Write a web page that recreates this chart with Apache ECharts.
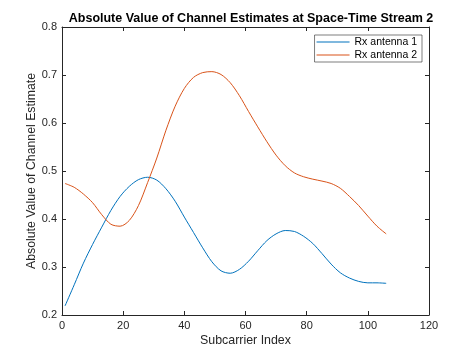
<!DOCTYPE html>
<html><head><meta charset="utf-8">
<script src="https://cdn.jsdelivr.net/npm/echarts@6/dist/echarts.min.js"></script>
<style>html,body{margin:0;padding:0;background:#fff}#c{width:474px;height:355px}</style>
</head><body><div id="c"></div>
<script>
var titleText = 'Absolute Value of Channel Estimates at Space-Time Stream 2';
var seriesNames = ['Rx antenna 1', 'Rx antenna 2'];
var xTicks = [0, 20, 40, 60, 80, 100, 120];
var yTicks = [0.2, 0.3, 0.4, 0.5, 0.6, 0.7, 0.8];

var subcarriers = [1, 4, 7, 10, 13, 16, 19, 22, 25, 28, 31, 34, 37, 40, 43, 46, 49, 52, 55, 58, 61, 64, 67, 70, 73, 76, 79, 82, 85, 88, 91, 94, 97, 100, 103, 106];
var rx1 = [0.219, 0.263, 0.308, 0.347, 0.383, 0.418, 0.447, 0.468, 0.482, 0.487, 0.481, 0.463, 0.437, 0.404, 0.372, 0.340, 0.311, 0.292, 0.287, 0.295, 0.312, 0.334, 0.355, 0.369, 0.376, 0.374, 0.364, 0.349, 0.328, 0.306, 0.288, 0.277, 0.270, 0.267, 0.267, 0.266];
var rx2 = [0.474, 0.466, 0.452, 0.434, 0.409, 0.389, 0.385, 0.397, 0.428, 0.476, 0.527, 0.585, 0.635, 0.672, 0.695, 0.705, 0.707, 0.701, 0.684, 0.657, 0.624, 0.592, 0.561, 0.533, 0.511, 0.496, 0.488, 0.483, 0.479, 0.474, 0.464, 0.447, 0.428, 0.406, 0.385, 0.369];

function pairs(xs, ys) { return xs.map(function (x, i) { return [x, ys[i]]; }); }

var axisCol = '#262626';
var font = 'Liberation Sans, Arial, Helvetica, sans-serif';
var chart = echarts.init(document.getElementById('c'), null, {renderer: 'canvas'});
var xMin = xTicks[0], xMax = xTicks[xTicks.length - 1];
var yMin = yTicks[0], yMax = yTicks[yTicks.length - 1];
function baseX(show) {
  return {
    type: 'value', min: xMin, max: xMax, interval: 20,
    axisLine: {show: true, onZero: false, lineStyle: {color: axisCol, width: 1}},
    axisTick: {show: true, inside: true, length: 4, lineStyle: {color: axisCol}},
    axisLabel: {show: show, color: axisCol, fontSize: 11, fontFamily: font, margin: 5},
    splitLine: {show: false}
  };
}
function baseY(show) {
  return {
    type: 'value', min: yMin, max: yMax, interval: 0.1,
    axisLine: {show: true, onZero: false, lineStyle: {color: axisCol, width: 1}},
    axisTick: {show: true, inside: true, length: 4, lineStyle: {color: axisCol}},
    axisLabel: {show: show, color: axisCol, fontSize: 11, fontFamily: font, margin: 5,
      formatter: function (v) { return (Math.round(v * 10) / 10).toString(); }},
    splitLine: {show: false}
  };
}
var xa = baseX(true);
xa.position = 'bottom';
xa.name = 'Subcarrier Index'; xa.nameLocation = 'middle'; xa.nameGap = 20;
xa.nameMoveOverlap = false;
xa.nameTextStyle = {color: axisCol, fontSize: 12.4, fontFamily: font};
var xb = baseX(false); xb.position = 'top';
var ya = baseY(true);
ya.position = 'left';
ya.name = 'Absolute Value of Channel Estimate'; ya.nameLocation = 'middle'; ya.nameGap = 24;
ya.nameMoveOverlap = false;
ya.nameTextStyle = {color: axisCol, fontSize: 12.3, fontFamily: font};
var yb = baseY(false); yb.position = 'right';

chart.setOption({
  animation: false,
  backgroundColor: '#ffffff',
  title: {
    text: titleText, left: 246, top: 7, textAlign: 'center',
    textStyle: {fontSize: 12.5, fontWeight: 'bold', color: '#000', fontFamily: font}
  },
  grid: {left: 62, right: 45, top: 27, bottom: 40},
  legend: {
    data: seriesNames, orient: 'vertical', right: 52, top: 35,
    icon: 'rect', itemWidth: 33, itemHeight: 1.2, itemGap: 2,
    padding: [1.5, 5, 1.5, 2],
    backgroundColor: '#fff', borderColor: axisCol, borderWidth: 0.6,
    textStyle: {fontSize: 10.5, color: '#000', fontFamily: font}
  },
  xAxis: [xa, xb],
  yAxis: [ya, yb],
  series: [
    {name: seriesNames[0], type: 'line', xAxisIndex: 0, yAxisIndex: 0, data: pairs(subcarriers, rx1),
     smooth: 0.3, symbol: 'none', lineStyle: {color: '#0072BD', width: 1}, itemStyle: {color: '#0072BD'}},
    {name: seriesNames[1], type: 'line', xAxisIndex: 0, yAxisIndex: 0, data: pairs(subcarriers, rx2),
     smooth: 0.3, symbol: 'none', lineStyle: {color: '#D95319', width: 1}, itemStyle: {color: '#D95319'}}
  ]
});
</script></body></html>
